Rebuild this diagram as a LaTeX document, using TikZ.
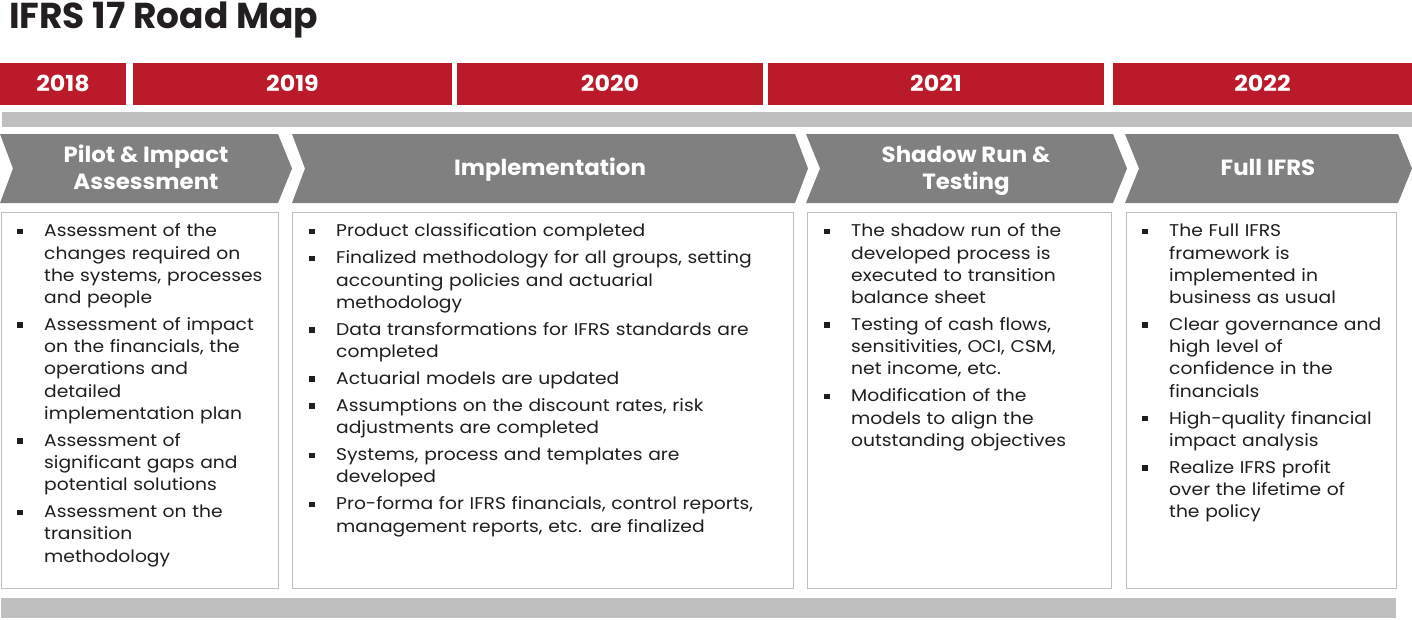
\documentclass[tikz,border=0pt]{standalone}
\usepackage{fontspec}
\setmainfont{Poppins}
\newfontfamily\bodyfont{Poppins}[FakeStretch=1.10]
\newfontfamily\hdfont{Poppins}[FakeStretch=1.04]
\newfontfamily\yrfont{Poppins}[FakeStretch=1.08]
\definecolor{ifred}{HTML}{BA1A2A}
\definecolor{chev}{HTML}{808080}
\definecolor{lgray}{HTML}{BFBFBF}
\definecolor{txt}{HTML}{1E1E1E}
\definecolor{ttl}{HTML}{231F20}
\newcommand\nl{\hfil\break}
\newcommand\bsq{\makebox[27pt][l]{\raisebox{2.7pt}{\rule{5.4pt}{5.4pt}}}}
\newcommand\bfirst[1]{\noindent\hangindent=27pt\hangafter=1\strut\bsq#1\strut\par}
\newcommand\bitem[1]{\vskip4.8pt\noindent\hangindent=27pt\hangafter=1\strut\bsq#1\strut\par}
\tikzset{
  yearbar/.style={fill=ifred, text=white, font=\yrfont\fontsize{22}{22}\selectfont\bfseries, minimum height=42pt, inner sep=0pt, anchor=center},
  hdr/.style={text=white, font=\hdfont\fontsize{22}{26.7}\selectfont\bfseries, align=center, inner sep=0pt},
  cbox/.style={draw=lgray, line width=1.2pt, fill=white, anchor=north west, inner sep=0pt},
  btext/.style={anchor=north west, inner sep=0pt, text=txt, font=\bodyfont\fontsize{17}{22.2}\selectfont},
  band/.style={fill=lgray, draw=none, anchor=north west, inner sep=0pt}
}
\begin{document}
\begin{tikzpicture}[x=1pt,y=-1pt]
\useasboundingbox (0,0) rectangle (1412,619);
% title
\node[anchor=base west, inner sep=0pt, text=ttl, font=\fontsize{36}{36}\selectfont\bfseries] (title) at (9,28) {IFRS 17 Road Map};
% years
\node[yearbar, minimum width=126pt] (y18) at (63,83.5) {2018};
\node[yearbar, minimum width=319pt] (y19) at (292.5,83.5) {2019};
\node[yearbar, minimum width=306pt] (y20) at (610,83.5) {2020};
\node[yearbar, minimum width=336pt] (y21) at (936,83.5) {2021};
\node[yearbar, minimum width=299pt] (y22) at (1262.5,83.5) {2022};
% top band
\node[band, minimum width=1410pt, minimum height=15pt] (topband) at (2,112) {};
% chevrons
\fill[chev] (0,134) -- (278,134) -- (292,168.5) -- (278,203) -- (0,203) -- (13,168.5) -- cycle;
\fill[chev] (292,134) -- (795,134) -- (808,168.5) -- (795,203) -- (292,203) -- (305,168.5) -- cycle;
\fill[chev] (806,134) -- (1113,134) -- (1127,168.5) -- (1113,203) -- (806,203) -- (820,168.5) -- cycle;
\fill[chev] (1125,134) -- (1398,134) -- (1412,168.5) -- (1398,203) -- (1125,203) -- (1139,168.5) -- cycle;
\node[hdr] (h1) at (146,170.6) {\strut Pilot \& Impact\\Assessment\strut};
\node[hdr] (h2) at (550,170.6) {\strut Implementation\strut};
\node[hdr] (h3) at (966,170.6) {\strut Shadow Run \&\\Testing\strut};
\node[hdr] (h4) at (1268,170.6) {\strut Full IFRS\strut};
% content boxes
\node[cbox, minimum width=277pt, minimum height=376pt] (b1) at (1,212) {};
\node[cbox, minimum width=501pt, minimum height=376pt] (b2) at (292,212) {};
\node[cbox, minimum width=304pt, minimum height=376pt] (b3) at (807,212) {};
\node[cbox, minimum width=270pt, minimum height=376pt] (b4) at (1126,212) {};
% bottom band
\node[band, minimum width=1395pt, minimum height=20pt] (botband) at (1,598) {};
% texts
\node[btext, text width=258pt] (t1) at (17,221.2) {\parskip=0pt
\bfirst{Assessment of the\nl changes required on\nl the systems, processes\nl and people}
\bitem{Assessment of impact\nl on the financials, the\nl operations and\nl detailed\nl implementation plan}
\bitem{Assessment of\nl significant gaps and\nl potential solutions}
\bitem{Assessment on the\nl transition\nl methodology}};
\node[btext, text width=478pt] (t2) at (309,221.2) {\parskip=0pt
\bfirst{Product classification completed}
\bitem{Finalized methodology for all groups, setting\nl accounting policies and actuarial\nl methodology}
\bitem{Data transformations for IFRS standards are\nl completed}
\bitem{Actuarial models are updated}
\bitem{Assumptions on the discount rates, risk\nl adjustments are completed}
\bitem{Systems, process and templates are\nl developed}
\bitem{Pro-forma for IFRS financials, control reports,\nl management reports, etc. are finalized}};
\node[btext, text width=282pt] (t3) at (824,221.2) {\parskip=0pt
\bfirst{The shadow run of the\nl developed process is\nl executed to transition\nl balance sheet}
\bitem{Testing of cash flows,\nl sensitivities, OCI, CSM,\nl net income, etc.}
\bitem{Modification of the\nl models to align the\nl outstanding objectives}};
\node[btext, text width=250pt] (t4) at (1142,221.2) {\parskip=0pt
\bfirst{The Full IFRS\nl framework is\nl implemented in\nl business as usual}
\bitem{Clear governance and\nl high level of\nl confidence in the\nl financials}
\bitem{High-quality financial\nl impact analysis}
\bitem{Realize IFRS profit\nl over the lifetime of\nl the policy}};
\end{tikzpicture}
\end{document}
